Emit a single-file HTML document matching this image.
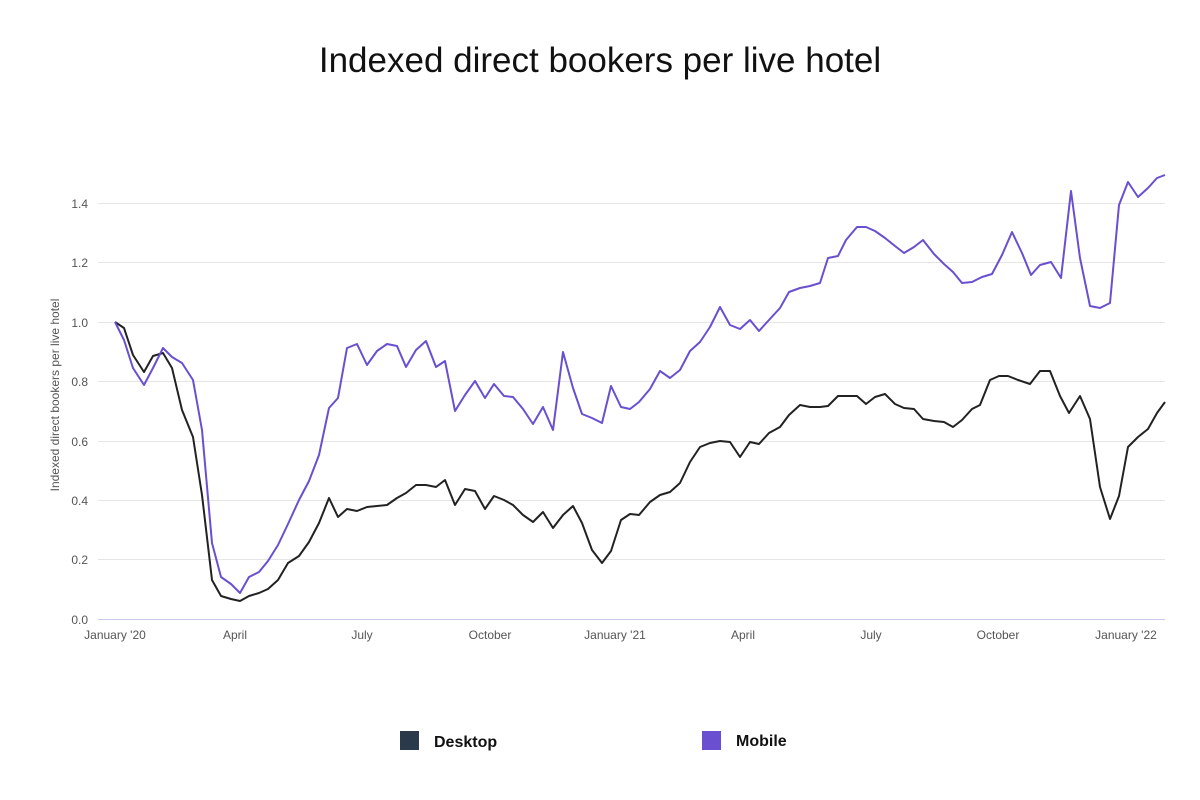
<!DOCTYPE html>
<html><head><meta charset="utf-8"><style>
html,body{margin:0;padding:0;background:#fff;}
svg{display:block;font-family:"Liberation Sans",sans-serif;}
</style></head><body>
<svg width="1200" height="800" viewBox="0 0 1200 800">
<text x="600" y="72" text-anchor="middle" font-size="35" fill="#111">Indexed direct bookers per live hotel</text>
<g stroke="#e6e6e6" stroke-width="1">
<line x1="98" y1="203.5" x2="1165" y2="203.5"/>
<line x1="98" y1="262.5" x2="1165" y2="262.5"/>
<line x1="98" y1="322.5" x2="1165" y2="322.5"/>
<line x1="98" y1="381.5" x2="1165" y2="381.5"/>
<line x1="98" y1="441.5" x2="1165" y2="441.5"/>
<line x1="98" y1="500.5" x2="1165" y2="500.5"/>
<line x1="98" y1="559.5" x2="1165" y2="559.5"/>
</g>
<line x1="98" y1="619.5" x2="1165" y2="619.5" stroke="#c5cbe8" stroke-width="1"/>
<g font-size="12" fill="#555" text-anchor="end">
<text x="88" y="208">1.4</text><text x="88" y="267">1.2</text><text x="88" y="327">1.0</text>
<text x="88" y="386">0.8</text><text x="88" y="446">0.6</text><text x="88" y="505">0.4</text>
<text x="88" y="564">0.2</text><text x="88" y="624">0.0</text>
</g>
<g font-size="12" fill="#555" text-anchor="middle">
<text x="115" y="639">January '20</text><text x="235" y="639">April</text><text x="362" y="639">July</text>
<text x="490" y="639">October</text><text x="615" y="639">January '21</text><text x="743" y="639">April</text>
<text x="871" y="639">July</text><text x="998" y="639">October</text><text x="1126" y="639">January '22</text>
</g>
<text transform="translate(59,395) rotate(-90)" text-anchor="middle" font-size="12" fill="#555">Indexed direct bookers per live hotel</text>
<polyline fill="none" stroke="#222" stroke-width="2" stroke-linejoin="round" points="115,322 124,328 133,355 144,372 153,356 163,353 172,368 182,410 193,437 202,495 212,580 221,596 231,599 240,601 249,596 259,593 268,589 278,580 288,563 299,556 309,542 319,523 329,498 338,517 347,509 357,511 367,507 377,506 387,505 397,498 406,493 416,485 426,485 436,487 445,480 455,505 465,489 475,491 485,509 494,496 504,500 513,505 523,515 533,522 543,512 553,528 563,515 573,506 582,523 592,550 602,563 611,551 621,520 630,514 639,515 650,502 660,495 670,492 680,483 690,462 700,447 710,443 720,441 730,442 740,457 750,442 759,444 769,433 780,427 789,415 800,405 810,407 820,407 828,406 838,396 846,396 857,396 866,404 875,397 885,394 895,404 904,408 914,409 923,419 934,421 944,422 953,427 962,420 972,409 980,405 990,380 999,376 1008,376 1018,380 1030,384 1040,371 1050,371 1060,396 1069,413 1080,396 1090,419 1100,487 1110,519 1119,496 1128,447 1138,437 1148,429 1157,413 1165,402"/>
<polyline fill="none" stroke="#6a4fd0" stroke-width="2" stroke-linejoin="round" points="115,322 124,340 133,368 144,385 153,368 163,348 172,357 182,363 193,380 202,430 212,543 221,577 231,584 240,593 249,577 259,572 268,561 278,545 288,524 299,500 309,481 319,455 329,408 338,398 347,348 357,344 367,365 377,351 387,344 397,346 406,367 416,350 426,341 436,367 445,361 455,411 465,395 475,381 485,398 494,384 504,396 513,397 523,409 533,424 543,407 553,430 563,352 573,388 582,414 592,418 602,423 611,386 621,407 630,409 639,402 650,389 660,371 670,378 680,370 690,351 700,342 710,327 720,307 730,325 740,329 750,320 759,331 769,320 780,308 789,292 800,288 810,286 820,283 828,258 838,256 846,240 857,227 866,227 875,231 885,238 895,246 904,253 914,247 923,240 934,254 944,264 953,272 962,283 972,282 982,277 992,274 1002,255 1012,232 1022,253 1031,275 1040,265 1051,262 1061,278 1071,191 1080,258 1090,306 1100,308 1110,303 1119,205 1128,182 1138,197 1148,188 1157,178 1165,175"/>
<rect x="400" y="731" width="19" height="19" fill="#2b3a4a"/>
<text x="434" y="747" font-size="16" font-weight="bold" fill="#111">Desktop</text>
<rect x="702" y="731" width="19" height="19" fill="#6a4fd0"/>
<text x="736" y="746" font-size="16" font-weight="bold" fill="#111">Mobile</text>
</svg>
</body></html>
